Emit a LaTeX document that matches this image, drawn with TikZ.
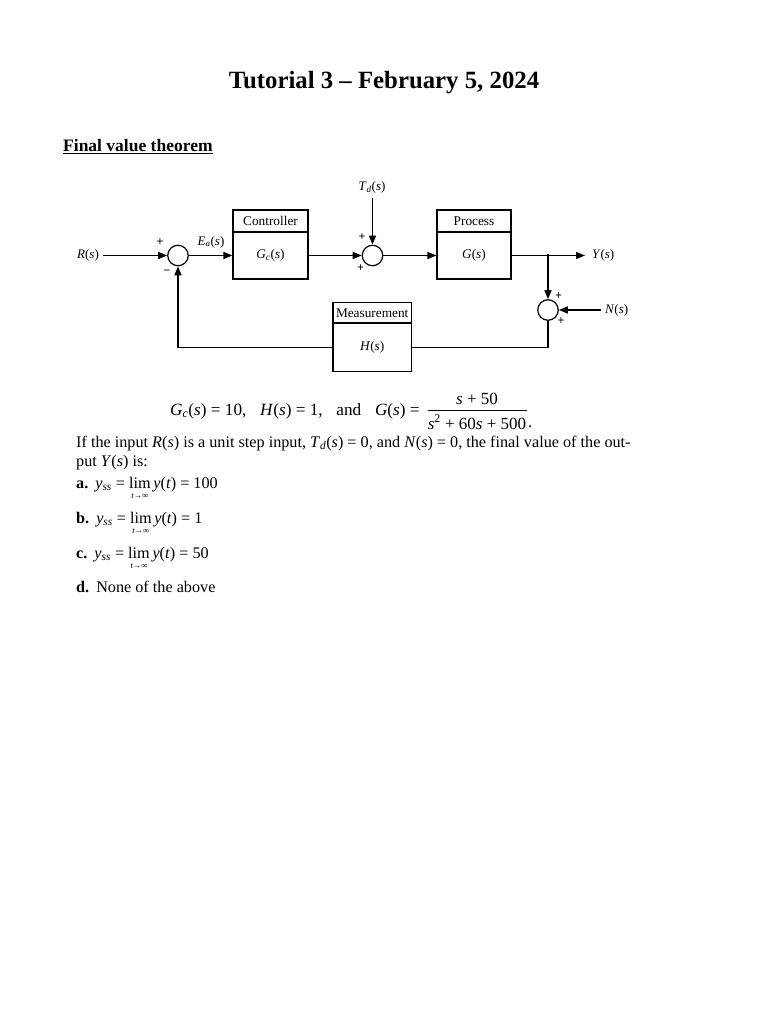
\documentclass[tikz,border=0pt]{standalone}
\usepackage{fontspec}
\setmainfont{Liberation Serif}
\usetikzlibrary{arrows.meta}
\newcommand{\vv}[1]{\textit{#1}}
\newcommand{\lm}{$\mathop{\hbox{lim}}\limits_{\raisebox{-4.5pt}{\hbox{\fontsize{8.5}{8.5}\selectfont\itshape t\upshape→∞}}}$}
\begin{document}
\begin{tikzpicture}[x=1pt,y=-1pt,
  wire/.style={line width=1.6pt},
  arr/.style={wire,-{Triangle[length=9pt,width=7pt]}},
  sumc/.style={circle,draw,line width=1.2pt,minimum size=20.5pt,inner sep=0pt},
  hdr/.style={draw,line width=1.2pt,minimum height=21.8pt,inner sep=0pt,font=\fontsize{13.3}{15}\selectfont},
  body/.style={draw,line width=1.2pt,minimum height=47pt,inner sep=0pt,font=\fontsize{13.3}{15}\selectfont},
  lbl/.style={font=\fontsize{13}{15}\selectfont,inner sep=0pt},
  sgn/.style={font=\fontsize{12}{12}\selectfont\bfseries,inner sep=0pt},
  qtxt/.style={font=\fontsize{16.2}{19}\selectfont,inner sep=0pt,anchor=base west},
]
\useasboundingbox (0,0) rectangle (768,1024);
\fill[white] (0,0) rectangle (768,1024);

% title
\node[font=\fontsize{24.8}{28}\selectfont\bfseries,inner sep=0pt,anchor=base] (title) at (384,89) {Tutorial 3 – February 5, 2024};
\node[font=\fontsize{17.5}{20}\selectfont\bfseries,inner sep=0pt,anchor=base west] (fvt) at (63,152) {\underline{Final value theorem}};

% blocks
\node[hdr,minimum width=75pt] (ctrlh) at (270.5,220.9) {Controller};
\node[body,minimum width=75pt] (ctrl) at (270.5,255.5) {\vv{G}\textsubscript{\vv{c}}(\vv{s})};
\node[hdr,minimum width=74pt] (proch) at (474,220.9) {Process};
\node[body,minimum width=74pt] (proc) at (474,255.5) {\vv{G}(\vv{s})};
\node[hdr,minimum width=78.5pt,minimum height=20.3pt] (meash) at (372.2,312.8) {Measurement};
\node[body,minimum width=78.5pt,minimum height=48.7pt] (meas) at (372.2,347.3) {\vv{H}(\vv{s})};

% summing junctions
\node[sumc] (s1) at (178,255.5) {};
\node[sumc] (s2) at (372.5,255.5) {};
\node[sumc] (s3) at (548,310) {};

% labels
\node[lbl] (R) at (88,255.5) {\vv{R}(\vv{s})};
\node[lbl] (Ea) at (211,242) {\vv{E}\textsubscript{\vv{a}}(\vv{s})};
\node[lbl] (Td) at (372,187.5) {\vv{T}\textsubscript{\vv{d}}(\vv{s})};
\node[lbl,anchor=west] (Y) at (592,255.5) {\vv{Y}(\vv{s})};
\node[lbl,anchor=west] (N) at (605,310) {\vv{N}(\vv{s})};
\coordinate (yend) at (585,255.5);
\coordinate (br) at (548,255.5);
\coordinate (tdstart) at (372.5,198);
\coordinate (nstart) at (601,310);

% signs
\node[sgn] (p1) at (160,242.5) {+};
\node[sgn] (m1) at (167,272.5) {\textminus};
\node[sgn] (p2) at (362,237) {+};
\node[sgn] (p3) at (360.5,268.5) {+};
\node[sgn] (p4) at (558.5,296) {+};
\node[sgn] (p5) at (561,321) {+};

% connectors
\draw[arr] ([xshift=4pt]R.east) -- (s1.west);
\draw[arr] (s1.east) -- (ctrl.west);
\draw[arr] (ctrl.east) -- (s2.west);
\draw[arr] (tdstart) -- (s2.north);
\draw[arr] (s2.east) -- (proc.west);
\draw[arr] (proc.east) -- (yend);
\fill (br) circle (1.8pt);
\draw[arr] (br) -- (s3.north);
\draw[arr] (nstart) -- (s3.east);
\draw[wire] (s3.south) |- (meas.east);
\draw[arr] (meas.west) -| (s1.south);

% equation
\node[font=\fontsize{17.2}{20}\selectfont,inner sep=0pt,anchor=base west] (eq) at (170,415)
  {\vv{G}\textsubscript{\vv{c}}(\vv{s}) = 10,\hspace{0.8em}\vv{H}(\vv{s}) = 1,\hspace{0.8em}and\hspace{0.8em}\vv{G}(\vv{s}) =};
\node[font=\fontsize{17}{19}\selectfont,inner sep=0pt,anchor=base] (num) at (477,404) {\vv{s} + 50};
\node[font=\fontsize{17}{19}\selectfont,inner sep=0pt,anchor=base] (den) at (477,429) {\vv{s}\textsuperscript{2} + 60\vv{s} + 500};
\draw[line width=0.8pt] (428,410) -- (527,410);
\node[font=\fontsize{17}{19}\selectfont,inner sep=0pt,anchor=base west] (dot) at (528,427) {.};

% question
\node[qtxt] (q1) at (76,447) {If the input \vv{R}(\vv{s}) is a unit step input, \vv{T}\textsubscript{\vv{d}}(\vv{s}) = 0, and \vv{N}(\vv{s}) = 0, the final value of the out-};
\node[qtxt] (q2) at (76,466) {put \vv{Y}(\vv{s}) is:};
\node[qtxt] (qa) at (76,488) {\textbf{a.}\hspace{7pt}\vv{y}\textsubscript{\vv{ss}} = \lm\,\vv{y}(\vv{t}) = 100};
\node[qtxt] (qb) at (76,523) {\textbf{b.}\hspace{7pt}\vv{y}\textsubscript{\vv{ss}} = \lm\,\vv{y}(\vv{t}) = 1};
\node[qtxt] (qc) at (76,558) {\textbf{c.}\hspace{7pt}\vv{y}\textsubscript{\vv{ss}} = \lm\,\vv{y}(\vv{t}) = 50};
\node[qtxt] (qd) at (76,592) {\textbf{d.}\hspace{7pt}None of the above};
\end{tikzpicture}
\end{document}
